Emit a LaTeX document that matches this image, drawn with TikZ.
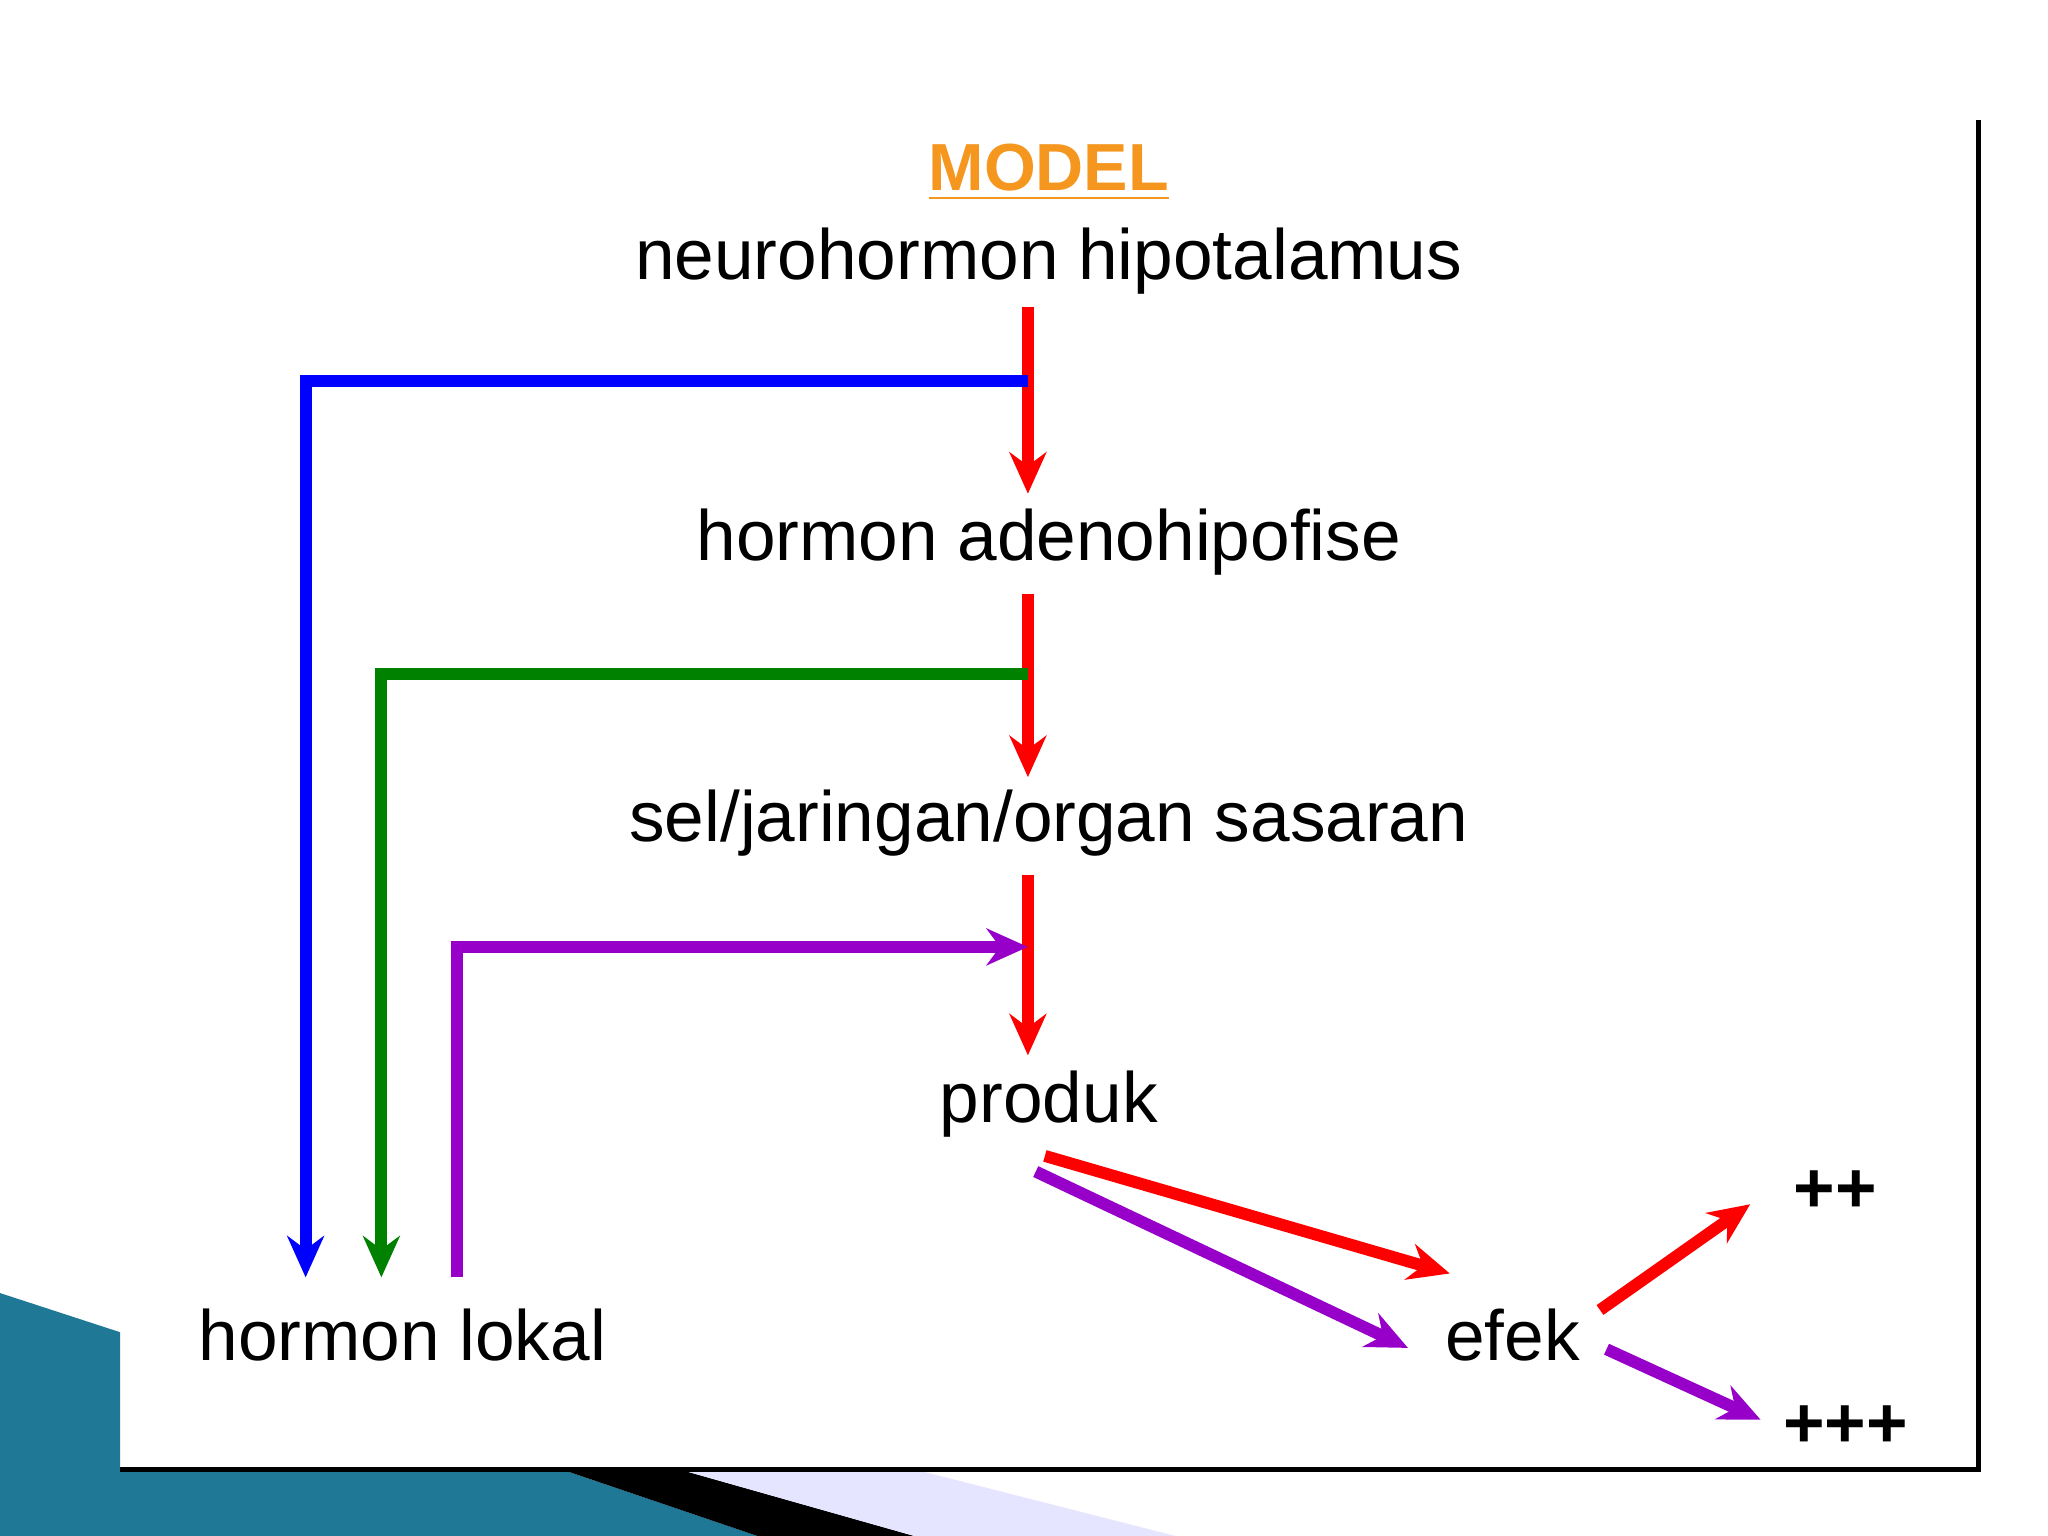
\documentclass[tikz,border=0pt]{standalone}
\usepackage{fontspec}
\setmainfont{Liberation Sans}
\usetikzlibrary{arrows.meta, positioning}
\definecolor{modelorange}{RGB}{245,150,30}
\definecolor{teal1}{RGB}{30,120,150}
\definecolor{purp}{RGB}{150,0,200}
\definecolor{grn}{RGB}{0,130,0}
\begin{document}
\begin{tikzpicture}[
  x=0.01cm, y=-0.01cm,
  every node/.style={font=\fontsize{15.5}{18}\selectfont, inner sep=1pt},
  flow/.style={line width=2.6pt, -{Stealth[length=9pt,width=8pt]}},
  >=Stealth
]
\useasboundingbox (0,0) rectangle (1568,1176);
% Background
\fill[white] (0,0) rectangle (1568,1176);
\fill[teal1] (0,990) -- (92,1020) -- (92,1125) -- (430,1125) -- (580,1176) -- (0,1176) -- cycle;
\fill[black] (430,1125) -- (520,1125) -- (700,1176) -- (580,1176) -- cycle;
\fill[blue!10] (520,1125) -- (700,1125) -- (900,1176) -- (700,1176) -- cycle;
\draw[line width=1pt] (92,1125) -- (1515,1125) -- (1515,92);

% Nodes
\node[font=\fontsize{14.5}{17}\selectfont\bfseries, text=modelorange] (model) at (803,132) {\underline{MODEL}};
\node (neuro) at (803,200) {neurohormon hipotalamus};
\node (adeno) at (803,415) {hormon adenohipofise};
\node (sel) at (803,630) {sel/jaringan/organ sasaran};
\node (produk) at (803,845) {produk};
\node (lokal) at (308,1022) {hormon lokal};
\node (efek) at (1158,1022) {efek};
\node[font=\fontsize{15.5}{18}\selectfont\bfseries] (plus) at (1405,912) {++};
\node[font=\fontsize{15.5}{18}\selectfont\bfseries] (plusplus) at (1413,1092) {+++};

% Branch points
\coordinate (bneuro) at (787,292);
\coordinate (badeno) at (787,516);
\coordinate (bsel) at (787,725);

% Main chain
\draw[flow, red] (787,235) -- (787,378);
\draw[flow, red] (787,455) -- (787,595);
\draw[flow, red] (787,670) -- (787,808);

% Local hormone paths
\draw[flow, blue] (bneuro) -| (234,978);
\draw[flow, grn] (badeno) -| (292,978);
\draw[flow, purp] (350,978) |- (bsel);

% Effects
\draw[flow, red] (800,885) -- (1110,975);
\draw[flow, purp] (793,897) -- (1078,1032);
\draw[flow, red] (1225,1003) -- (1340,922);
\draw[flow, purp] (1230,1033) -- (1348,1087);
\end{tikzpicture}
\end{document}
